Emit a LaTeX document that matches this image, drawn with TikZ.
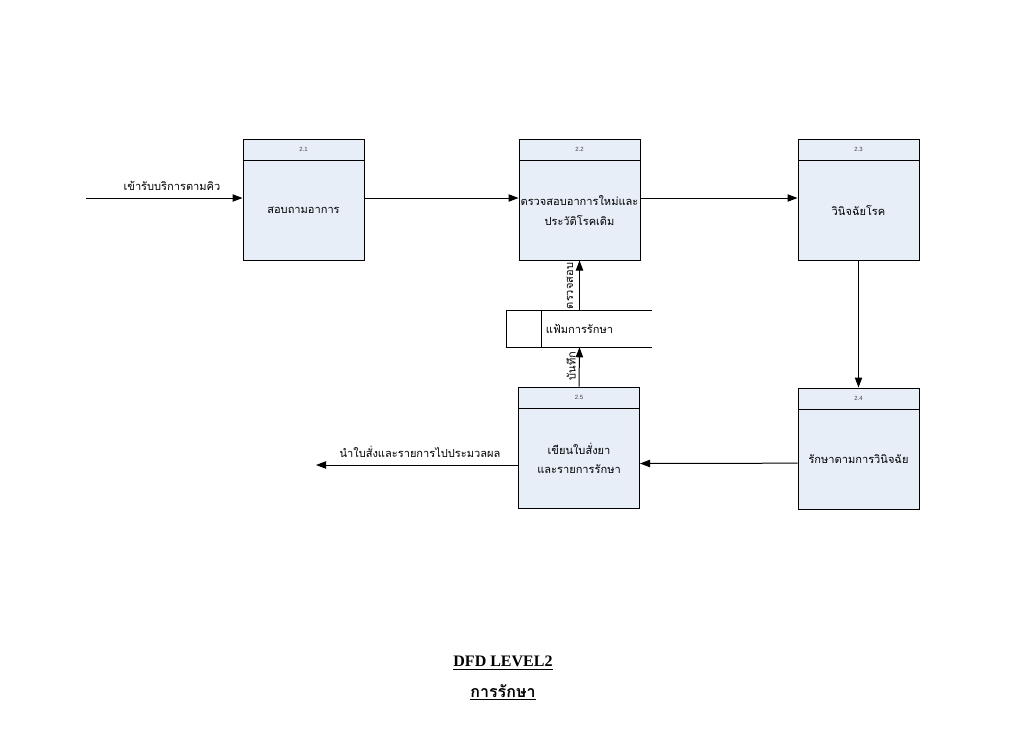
\documentclass[tikz,border=0pt]{standalone}
\usepackage{fontspec}
\setmainfont{Liberation Serif}
\newfontfamily\thai[Script=Thai]{Loma}
\newfontfamily\tsans{Liberation Sans}
\usetikzlibrary{arrows.meta,calc}
\definecolor{procfill}{RGB}{232,238,248}
\begin{document}
\begin{tikzpicture}[x=0.75pt,y=-0.75pt,
  proc/.style={draw=black, fill=procfill, line width=0.75pt, minimum width=90.75pt, minimum height=90.75pt, inner sep=0pt},
  num/.style={font=\tsans\fontsize{4.5}{5}\selectfont, text=black!75},
  lbl/.style={font=\thai\fontsize{8.3}{14.5}\selectfont, align=center, inner sep=1pt},
  arr/.style={-{Triangle[length=7.5pt,width=5.5pt]}, line width=0.75pt},
  ln/.style={line width=0.75pt}]
\useasboundingbox (0,0) rectangle (1030,728);

% process boxes
\node[proc] (p1) at (303.5,199.5) {};
\node[proc] (p2) at (579.5,199.5) {};
\node[proc] (p3) at (858.5,199.5) {};
\node[proc] (p4) at (858.5,448.5) {};
\node[proc] (p5) at (579,447.5) {};

\foreach \p/\n in {p1/2.1,p2/2.2,p3/2.3,p4/2.4,p5/2.5}{
  \draw[ln] ([yshift=-16.5pt]\p.north west) -- ([yshift=-16.5pt]\p.north east);
  \node[num] (\p num) at ([yshift=-8.25pt]\p.north) {\n};
}

\node[lbl] (t1) at ([yshift=-54pt]p1.north) {สอบถามอาการ};
\node[lbl] (t2) at ([yshift=-54pt]p2.north) {ตรวจสอบอาการใหม่และ\\ประวัติโรคเดิม};
\node[lbl] (t3) at ([yshift=-54pt]p3.north) {วินิจฉัยโรค};
\node[lbl] (t4) at ([yshift=-54pt]p4.north) {รักษาตามการวินิจฉัย};
\node[lbl] (t5) at ([yshift=-54pt]p5.north) {เขียนใบสั่งยา\\และรายการรักษา};

% data store
\node[lbl, minimum width=108.75pt, minimum height=27pt, inner sep=0pt] (store) at (579.5,329) {แฟ้มการรักษา};
\draw[ln] (store.north east) -- (store.north west) -- (store.south west) -- (store.south east);
\draw[ln] ([xshift=26.25pt]store.north west) -- ([xshift=26.25pt]store.south west);

% flows
\coordinate (in) at (86,198);
\coordinate (out) at (316,465);
\draw[arr] (in) -- (p1.west |- in);
\node[lbl] (lin) at (172,186) {เข้ารับบริการตามคิว};
\draw[arr] (p1.east |- in) -- (p2.west |- in);
\draw[arr] (p2.east |- in) -- (p3.west |- in);
\draw[arr] (p3.south) -- (p4.north);
\draw[arr] ([yshift=-11pt]p4.west) -- ([yshift=-12pt]p5.east);
\draw[arr] (p5.west |- out) -- (out);
\node[lbl] (lout) at (420,452) {นำใบสั่งและรายการไปประมวลผล};
\draw[arr] (store.north) -- (p2.south);
\draw[arr] (p5.north) -- (store.south);
\node[lbl, rotate=90] (lchk) at (570,286) {ตรวจสอบ};
\node[lbl, rotate=90] (lrec) at (571,366) {บันทึก};

% title
\node[font=\bfseries\fontsize{12}{14}\selectfont] (title) at (503,663) {\underline{DFD LEVEL2}};
\node[font=\thai\bfseries\fontsize{12}{14}\selectfont] (sub) at (503,692) {\underline{การรักษา}};
\end{tikzpicture}
\end{document}
